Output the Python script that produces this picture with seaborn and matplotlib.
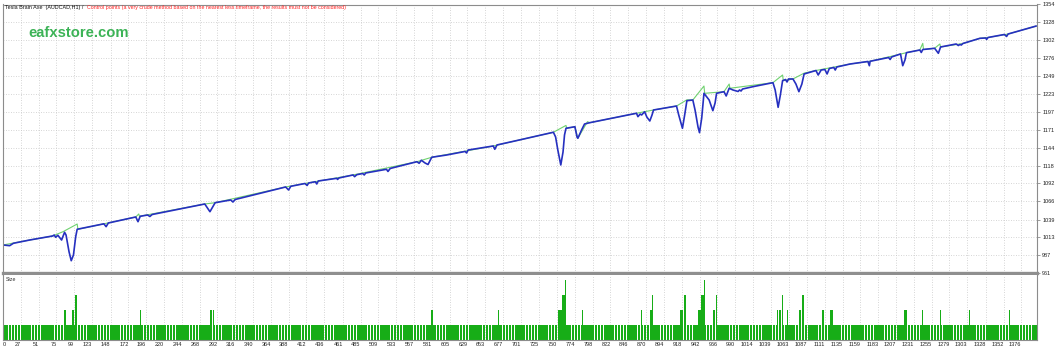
import matplotlib
matplotlib.use("Agg")
import matplotlib.pyplot as plt
import seaborn as sns
import pandas as pd

# ---------------- data ----------------
balance_trades = [3, 12, 17, 39, 70, 72, 74, 77, 82, 86,
                  88, 92, 95, 98, 101, 103, 139, 142, 145, 182,
                  185, 188, 198, 201, 204, 275, 282, 289, 310, 313,
                  316, 384, 388, 391, 410, 413, 415, 424, 426, 428,
                  453, 454, 456, 475, 477, 480, 488, 490, 492, 520,
                  522, 525, 561, 564, 567, 572, 576, 581, 601, 626,
                  628, 630, 664, 666, 669, 695, 745, 748, 751, 755,
                  758, 760, 762, 774, 777, 778, 783, 787, 794, 857,
                  859, 862, 864, 868, 871, 875, 878, 880, 911, 914,
                  919, 922, 925, 933, 936, 940, 942, 945, 948, 955,
                  960, 963, 965, 975, 978, 982, 987, 994, 996, 998,
                  1000, 1014, 1041, 1044, 1048, 1051, 1054, 1058, 1060, 1062,
                  1068, 1072, 1076, 1080, 1083, 1099, 1102, 1106, 1111, 1114,
                  1117, 1123, 1125, 1127, 1145, 1169, 1171, 1172, 1197, 1199,
                  1201, 1213, 1216, 1219, 1221, 1239, 1241, 1243, 1259, 1264,
                  1267, 1288, 1291, 1293, 1295, 1297, 1320, 1328, 1329, 1331,
                  1353, 1356, 1358, 1396]
balance_values = [1002.0, 1001.0, 1004.5, 1009.3, 1015.2, 1016.6, 1013.3, 1016.2, 1009.3, 1020.6,
                  1016.6, 992.2, 979.0, 987.4, 1014.1, 1025.0, 1033.0, 1028.8, 1034.2, 1043.0,
                  1036.1, 1044.0, 1045.9, 1043.7, 1046.6, 1062.0, 1050.7, 1063.9, 1067.9, 1064.9,
                  1068.6, 1086.9, 1082.5, 1087.9, 1092.0, 1089.1, 1092.7, 1094.6, 1091.3, 1095.7,
                  1099.6, 1097.9, 1100.1, 1104.5, 1102.0, 1104.9, 1106.6, 1104.5, 1107.4, 1112.8,
                  1109.6, 1114.0, 1123.9, 1121.6, 1126.0, 1122.0, 1119.8, 1130.4, 1133.7, 1138.9,
                  1136.7, 1141.0, 1146.9, 1142.1, 1148.4, 1154.7, 1167.0, 1160.1, 1141.0, 1119.1,
                  1138.1, 1163.0, 1172.8, 1175.1, 1159.6, 1158.2, 1170.3, 1179.1, 1181.0, 1194.8,
                  1189.8, 1193.7, 1192.3, 1197.1, 1189.3, 1183.5, 1192.3, 1199.6, 1205.4, 1192.3,
                  1172.8, 1192.3, 1213.2, 1214.2, 1199.6, 1174.7, 1166.4, 1187.9, 1224.0, 1214.2,
                  1198.6, 1209.8, 1224.0, 1226.4, 1220.1, 1231.4, 1228.9, 1226.7, 1228.9, 1227.4,
                  1230.3, 1233.7, 1239.6, 1228.9, 1203.5, 1221.5, 1242.5, 1244.2, 1240.6, 1245.0,
                  1245.0, 1237.6, 1226.4, 1237.6, 1252.3, 1257.4, 1250.8, 1258.1, 1258.9, 1252.3,
                  1260.3, 1261.8, 1258.1, 1262.5, 1266.9, 1270.6, 1264.4, 1270.9, 1276.4, 1273.5,
                  1277.2, 1281.6, 1264.4, 1272.8, 1283.5, 1287.4, 1283.8, 1288.1, 1289.9, 1282.6,
                  1291.8, 1296.2, 1294.0, 1295.5, 1294.7, 1296.9, 1304.5, 1305.0, 1302.8, 1305.7,
                  1310.1, 1307.2, 1310.8, 1322.5]

equity_trades = [3, 39, 70, 84, 103, 104, 139, 182, 186, 187,
                 275, 289, 384, 410, 475, 561, 581, 664, 695, 745,
                 762, 763, 774, 778, 791, 794, 857, 868, 880, 911,
                 925, 933, 948, 949, 975, 982, 983, 1041, 1054, 1055,
                 1068, 1083, 1099, 1145, 1172, 1221, 1239, 1243, 1244, 1259,
                 1266, 1267, 1297, 1320, 1331, 1358, 1396]
equity_values = [1002.0, 1009.3, 1015.2, 1021.5, 1032.7, 1025.0, 1033.0, 1043.0, 1047.4, 1044.0,
                 1062.0, 1063.9, 1086.9, 1092.0, 1104.5, 1123.9, 1130.4, 1146.9, 1154.7, 1167.0,
                 1177.0, 1172.8, 1175.1, 1158.2, 1182.5, 1181.0, 1194.8, 1197.1, 1199.6, 1205.4,
                 1214.5, 1214.2, 1234.7, 1224.0, 1226.4, 1237.6, 1231.4, 1239.6, 1250.8, 1242.5,
                 1245.0, 1253.5, 1257.4, 1266.9, 1270.9, 1283.5, 1287.4, 1297.2, 1288.1, 1289.9,
                 1296.2, 1291.8, 1296.9, 1304.5, 1305.7, 1310.8, 1322.5]

n_trades = 1396
base_size = 1
spike_trades = [85, 86, 87, 96, 97, 98, 101, 102, 103, 188,
                283, 284, 285, 286, 287, 317, 391, 456, 569, 581,
                582, 671, 752, 753, 754, 755, 756, 757, 758, 759,
                760, 761, 762, 784, 785, 864, 876, 877, 878, 879,
                916, 917, 918, 919, 920, 921, 922, 923, 924, 925,
                940, 941, 942, 943, 944, 945, 946, 947, 948, 949,
                961, 962, 963, 964, 965, 982, 998, 1047, 1048, 1049,
                1050, 1051, 1052, 1053, 1054, 1061, 1076, 1077, 1078, 1079,
                1080, 1081, 1082, 1083, 1108, 1109, 1110, 1111, 1118, 1119,
                1120, 1121, 1173, 1218, 1219, 1220, 1221, 1222, 1243, 1267,
                1297, 1306, 1360]
spike_sizes = [2, 2, 2, 2, 2, 2, 3, 3, 3, 2,
               2, 2, 2, 2, 2, 2, 2, 2, 2, 2,
               2, 2, 2, 2, 2, 2, 2, 3, 3, 3,
               3, 4, 4, 2, 2, 2, 2, 2, 2, 3,
               2, 2, 2, 2, 2, 3, 3, 3, 4, 4,
               2, 2, 2, 2, 3, 3, 3, 3, 4, 4,
               2, 2, 2, 2, 3, 2, 2, 2, 2, 2,
               2, 2, 2, 3, 3, 2, 2, 2, 2, 2,
               2, 3, 3, 3, 2, 2, 2, 2, 2, 2,
               2, 2, 2, 2, 2, 2, 2, 2, 2, 2,
               2, 2, 2]

y_tick_labels = [961, 987, 1013, 1039, 1066, 1092, 1118, 1144, 1171, 1197,
                 1223, 1249, 1276, 1302, 1328, 1354]
x_tick_labels = [27, 51, 75, 99, 123, 148, 172, 196, 220, 244, 268, 292, 316,
                 340, 364, 388, 412, 436, 461, 485, 509, 533, 557, 581, 605,
                 629, 653, 677, 701, 725, 750, 774, 798, 822, 846, 870, 894,
                 918, 942, 966, 990, 1014, 1039, 1063, 1087, 1111, 1135, 1159,
                 1183, 1207, 1231, 1255, 1279, 1303, 1328, 1352, 1376]

# ---------------- build tables ----------------
assert len(balance_trades) == len(balance_values)
assert len(equity_trades) == len(equity_values)
assert len(spike_trades) == len(spike_sizes)

size_map = dict(zip(spike_trades, spike_sizes))
trade_no = list(range(1, n_trades + 1))
sizes_df = pd.DataFrame({"trade": trade_no,
                         "size": [size_map.get(t, base_size) for t in trade_no]})
bal_df = pd.DataFrame({"trade": balance_trades, "value": balance_values})
eq_df = pd.DataFrame({"trade": equity_trades, "value": equity_values})

# ---------------- style ----------------
sns.set_theme(style="white")
plt.rcParams["font.family"] = ["Liberation Sans", "DejaVu Sans"]

W, H = 1062, 350
fig = plt.figure(figsize=(W / 100, H / 100), dpi=100)
fig.patch.set_facecolor("white")

ax = fig.add_axes([3 / W, 1 - 273 / H, 1034 / W, 268.5 / H])
ax2 = fig.add_axes([3 / W, 1 - 340 / H, 1034 / W, 65 / H])

grid_kw = dict(color="#c8c8c8", linestyle=(0, (1, 2)), linewidth=0.6)
frame_col = "#8c8c8c"

# ---------------- main panel ----------------
sns.lineplot(data=eq_df, x="trade", y="value", ax=ax, color="#6fd16f",
             linewidth=0.8, estimator=None, sort=False, legend=False)
sns.lineplot(data=bal_df, x="trade", y="value", ax=ax, color="#2630c0",
             linewidth=1.2, estimator=None, sort=False, legend=False)

xlim = (3, 1397)
ax.set_xlim(*xlim)
ax.set_ylim(961, 1354)
ax.set_yticks(y_tick_labels)
ax.set_yticklabels([str(v) for v in y_tick_labels])
ax.yaxis.tick_right()
ax.set_xticks(x_tick_labels)
ax.tick_params(axis="x", bottom=False, labelbottom=False)
ax.tick_params(axis="y", right=True, left=False, length=2.5, width=0.6,
               color=frame_col, pad=1.2, labelsize=4, labelcolor="#222222")
ax.set_xlabel("")
ax.set_ylabel("")
ax.grid(True, **grid_kw)
for s in ["top", "left", "right"]:
    ax.spines[s].set_color(frame_col)
    ax.spines[s].set_linewidth(0.8)
ax.spines["bottom"].set_color("#8f8f8f")
ax.spines["bottom"].set_linewidth(2.4)

# ---------------- size panel ----------------
sns.barplot(data=sizes_df, x="trade", y="size", ax=ax2, native_scale=True,
            color="#17ad17", saturation=1, width=0.8, errorbar=None,
            linewidth=0)
ax2.set_xlim(*xlim)
ax2.set_ylim(0, 4.3)
ax2.set_xticks(x_tick_labels)
ax2.set_xticklabels([str(v) for v in x_tick_labels])
for lab in ax2.get_xticklabels():
    lab.set_horizontalalignment("right")
ax2.tick_params(axis="x", bottom=False, length=0, pad=1.5, labelsize=4,
                labelcolor="#222222")
ax2.tick_params(axis="y", left=False, right=False, labelleft=False)
ax2.set_yticks([])
ax2.set_xlabel("")
ax2.set_ylabel("")
ax2.grid(True, axis="x", **grid_kw)
ax2.set_axisbelow(True)
ax2.spines["top"].set_visible(False)
for s in ["left", "right", "bottom"]:
    ax2.spines[s].set_color(frame_col)
    ax2.spines[s].set_linewidth(0.8)

fig.text(3 / W, 1 - 344 / H, "0", fontsize=4, color="#222222",
         ha="left", va="center")
fig.text(6 / W, 1 - 279.5 / H, "Size", fontsize=3.8, color="#333333",
         ha="left", va="center")

# ---------------- header texts ----------------
fig.text(5 / W, 1 - 7 / H, "Tesla Brain Axe  (AUDCAD,H1) /", fontsize=3.9,
         color="#111111", ha="left", va="center")
fig.text(87 / W, 1 - 7 / H,
         "Control points (a very crude method based on the nearest less timeframe, "
         "the results must not be considered)",
         fontsize=3.8, color="#ff2020", ha="left", va="center")
fig.text(28 / W, 1 - 33 / H, "eafxstore.com", fontsize=10.6, fontweight="bold",
         color="#3cb356", ha="left", va="center")

fig.savefig("out.png", dpi=100, facecolor="white")
